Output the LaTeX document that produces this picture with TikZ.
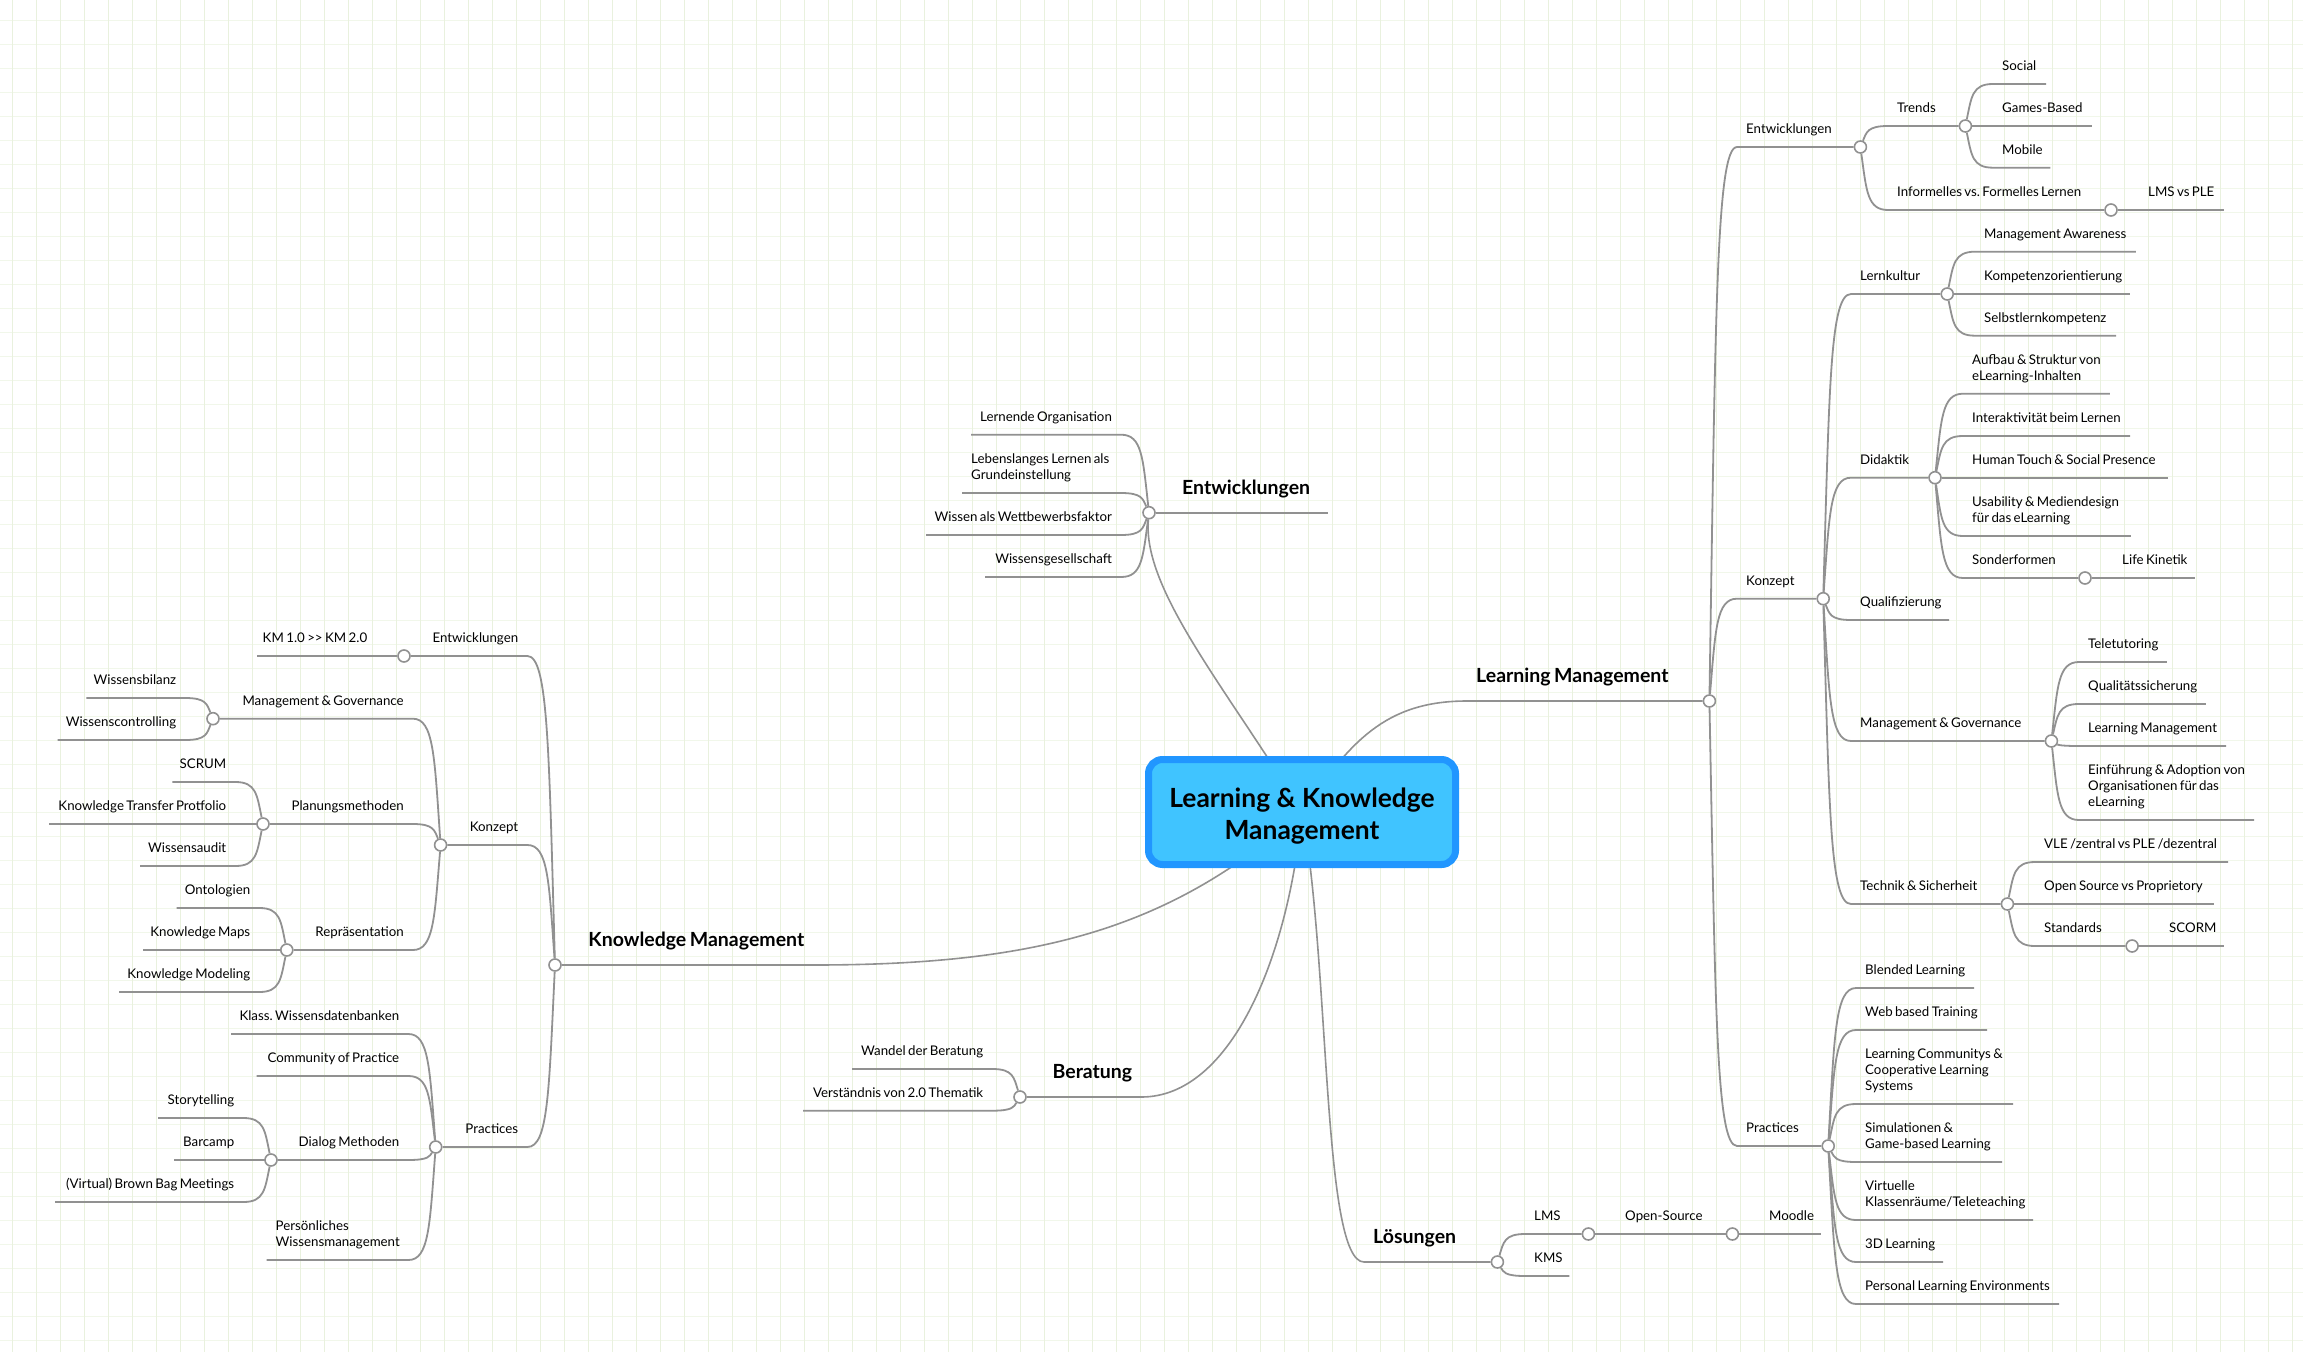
\documentclass[tikz,border=0pt]{standalone}
\usepackage{fontspec}
\setmainfont{Lato}
\usetikzlibrary{calc, backgrounds}
\definecolor{linegray}{HTML}{919191}
\definecolor{gridv}{HTML}{E9F1DE}
\definecolor{gridh}{HTML}{F1F7EA}
\definecolor{rootfill}{HTML}{40C4FF}
\definecolor{rootline}{HTML}{2196FF}
\newcommand{\oneline}{\hyphenpenalty=10000 \exhyphenpenalty=10000 \frenchspacing \spaceskip=.18em\relax}
\tikzstyle{rootbox} = [rectangle, rounded corners=14pt, minimum width=307pt, minimum height=105pt, align=center, draw=rootline, fill=rootfill, line width=7pt, font=\fontsize{26.4}{32}\selectfont\bfseries]
\tikzstyle{leaf} = [anchor=south west, inner xsep=9pt, inner ysep=8.2pt, align=left, font=\fontsize{13.3}{16}\selectfont, execute at begin node={\oneline\rightskip=-25pt plus 1fil\relax\strut}, execute at end node=\strut]
\tikzstyle{lleaf} = [leaf, align=right, execute at begin node={\oneline\leftskip=-25pt plus 1fil\relax\rightskip=0pt\parfillskip=0pt\strut}]
\tikzstyle{main} = [anchor=south west, inner xsep=9pt, inner ysep=11.6pt, align=left, font=\fontsize{19.5}{22}\selectfont\bfseries, execute at begin node={\oneline\strut}, execute at end node=\strut]
\tikzstyle{lmain} = [main, align=right]
\tikzstyle{junction} = [circle, draw=linegray, fill=white, line width=1.6pt, minimum size=12pt, inner sep=0pt]
\tikzstyle{branch} = [draw=linegray, line width=1.8pt]
\tikzstyle{stem} = [draw=linegray, line width=1.6pt]
\tikzstyle{twig} = [to path={let \p1=(\tikztostart), \p2=(\tikztotarget) in .. controls ({\x1+.22*(\x2-\x1)},{\y1+.7*(\y2-\y1)}) and ({\x1+.25*(\x2-\x1)},\y2) .. (\tikztotarget)}]

\begin{document}
\begin{tikzpicture}[x=1pt, y=-1pt]
\useasboundingbox (0,0) rectangle (2303,1352);

% Paper
\begin{scope}[on background layer]
\foreach \gx in {0,...,95} {\draw [gridh, line width=1pt] (0,{20+24*\gx}) -- (2303,{20+24*\gx});}
\foreach \gx in {0,...,95} {\draw [gridv, line width=1pt] ({12+24*\gx},0) -- ({12+24*\gx},1352);}
\end{scope}

% Nodes
\node (root) [rootbox] at (1302,812) {\rule{0pt}{27pt}Learning \& Knowledge\\Management};

% Learning Management
\node (lm) [main, text width=224pt] at (1467,701) {Learning Management};
\node (jlm) [junction] at (lm.south east) {};
\node (lment) [leaf, text width=105pt] at (1737,147) {Entwicklungen};
\node (jlment) [junction] at (lment.south east) {};
\node (trends) [leaf, text width=59pt] at (1888,126) {Trends};
\node (jtrends) [junction] at (trends.south east) {};
\node (social) [leaf, text width=34.6pt] at (1993,84) {Social};
\node (games) [leaf, text width=80.5pt] at (1993,126) {Games-Based};
\node (mobile) [leaf, text width=39pt] at (1993,167.7) {Mobile};
\node (inform) [leaf, text width=204.6pt] at (1888,210) {Informelles vs. Formelles Lernen};
\node (jinform) [junction] at (inform.south east) {};
\node (lmsple) [leaf, text width=66.5pt] at (2139,210) {LMS vs PLE};
\node (lmkonz) [leaf, text width=67.8pt] at (1737,598.7) {Konzept};
\node (jlmkonz) [junction] at (lmkonz.south east) {};
\node (lernk) [leaf, text width=77.8pt] at (1851,294) {Lernkultur};
\node (jlernk) [junction] at (lernk.south east) {};
\node (mgmtaw) [leaf, text width=142.5pt] at (1975,251.7) {Management Awareness};
\node (kompet) [leaf, text width=136.8pt] at (1975,294) {Kompetenzorientierung};
\node (selbst) [leaf, text width=122.6pt] at (1975,335.7) {Selbstlernkompetenz};
\node (didakt) [leaf, text width=65.6pt] at (1851,477.7) {Didaktik};
\node (jdidakt) [junction] at (didakt.south east) {};
\node (aufbau) [leaf, text width=128.5pt] at (1963,393.7) {Aufbau \& Struktur von\\eLearning-Inhalten};
\node (interakt) [leaf, text width=148.8pt] at (1963,436) {Interaktivität beim Lernen};
\node (human) [leaf, text width=186.7pt] at (1963,477.7) {Human Touch \& Social Presence};
\node (usab) [leaf, text width=149.5pt] at (1963,536) {Usability \& Mediendesign\\für das eLearning};
\node (sonder) [leaf, text width=103.6pt] at (1963,578) {Sonderformen};
\node (jsonder) [junction] at (sonder.south east) {};
\node (kinetik) [leaf, text width=63.8pt] at (2113,578) {Life Kinetik};
\node (quali) [leaf, text width=79.8pt] at (1851,620) {Qualifizierung};
\node (lmgov) [leaf, text width=182pt] at (1851,741) {Management \& Governance};
\node (jlmgov) [junction] at (lmgov.south east) {};
\node (tele) [leaf, text width=69.5pt] at (2079,662) {Teletutoring};
\node (qsich) [leaf, text width=108.5pt] at (2079,704) {Qualitätssicherung};
\node (lernm) [leaf, text width=128.8pt] at (2079,746) {Learning Management};
\node (einf) [leaf, text width=156.8pt] at (2079,820) {Einführung \& Adoption von\\Organisationen für das\\eLearning};
\node (technik) [leaf, text width=138pt] at (1851,904) {Technik \& Sicherheit};
\node (jtechnik) [junction] at (technik.south east) {};
\node (vle) [leaf, text width=174.7pt] at (2035,862) {VLE /zentral vs PLE /dezentral};
\node (osrc) [leaf, text width=160.6pt] at (2035,904) {Open Source vs Proprietory};
\node (stand) [leaf, text width=78.7pt] at (2035,946) {Standards};
\node (jstand) [junction] at (stand.south east) {};
\node (scorm) [leaf, text width=45.5pt] at (2160,946) {SCORM};
\node (lmprac) [leaf, text width=72.8pt] at (1737,1146) {Practices};
\node (jlmprac) [junction] at (lmprac.south east) {};
\node (blended) [leaf, text width=99.6pt] at (1856,988) {Blended Learning};
\node (webb) [leaf, text width=112.6pt] at (1856,1030) {Web based Training};
\node (commun) [leaf, text width=138.7pt] at (1856,1104) {Learning Communitys \&\\Cooperative Learning\\Systems};
\node (simul) [leaf, text width=127.6pt] at (1856,1162) {Simulationen \&\\Game-based Learning};
\node (virt) [leaf, text width=158.6pt] at (1856,1220) {Virtuelle\\Klassenräume/Teleteaching};
\node (threed) [leaf, text width=68.6pt] at (1856,1262) {3D Learning};
\node (personal) [leaf, text width=184.6pt] at (1856,1304) {Personal Learning Environments};

% Loesungen
\node (loes) [main, text width=115pt] at (1364,1262) {Lösungen};
\node (jloes) [junction] at (loes.south east) {};
\node (lms) [leaf, text width=45pt] at (1525,1234) {LMS};
\node (jlms) [junction] at (lms.south east) {};
\node (kms) [leaf, text width=26pt] at (1525,1276) {KMS};
\node (opens) [leaf, text width=98pt] at (1616,1234) {Open-Source};
\node (jopens) [junction] at (opens.south east) {};
\node (moodle) [leaf, text width=42.7pt] at (1760,1234) {Moodle};

% Entwicklungen
\node (ent) [main, text width=136.7pt] at (1173,512.7) {Entwicklungen};
\node (jent) [junction] at (1149,512.7) {};
\node (lernorg) [lleaf, text width=131.7pt] at (971,434.7) {Lernende Organisation};
\node (lebens) [leaf, text width=140.7pt] at (962,493) {Lebenslanges Lernen als\\Grundeinstellung};
\node (wettb) [lleaf, text width=176.7pt] at (926,535) {Wissen als Wettbewerbsfaktor};
\node (wgesell) [lleaf, text width=117.7pt] at (985,577) {Wissensgesellschaft};

% Beratung
\node (berat) [lmain, text width=103pt] at (1020,1097) {Beratung};
\node (jberat) [junction] at (berat.south west) {};
\node (wandel) [lleaf, text width=122pt] at (852,1069) {Wandel der Beratung};
\node (verst) [lleaf, text width=171pt] at (803,1110.7) {Verständnis von 2.0 Thematik};

% Knowledge Management
\node (km) [lmain, text width=240pt] at (555,965) {Knowledge Management};
\node (jkm) [junction] at (km.south west) {};
\node (kment) [lleaf, text width=105pt] at (404,656) {Entwicklungen};
\node (jkment) [junction] at (kment.south west) {};
\node (kmone) [lleaf, text width=100.7pt] at (257.3,656) {KM 1.0 >{}> KM 2.0};
\node (kmkonz) [lleaf, text width=68.4pt] at (440.6,845) {Konzept};
\node (jkmkonz) [junction] at (kmkonz.south west) {};
\node (kmgov) [lleaf, text width=181.5pt] at (213,718.7) {Management \& Governance};
\node (jkmgov) [junction] at (kmgov.south west) {};
\node (wbil) [lleaf, text width=80.7pt] at (86.3,698) {Wissensbilanz};
\node (wcon) [lleaf, text width=109.5pt] at (57.5,740) {Wissenscontrolling};
\node (plan) [lleaf, text width=131.5pt] at (263,824) {Planungsmethoden};
\node (jplan) [junction] at (plan.south west) {};
\node (scrum) [lleaf, text width=44.6pt] at (172.4,782) {SCRUM};
\node (ktp) [lleaf, text width=168pt] at (49,824) {Knowledge Transfer Protfolio};
\node (waudit) [lleaf, text width=77pt] at (140,866) {Wissensaudit};
\node (repr) [lleaf, text width=107.7pt] at (286.8,950) {Repräsentation};
\node (jrepr) [junction] at (repr.south west) {};
\node (onto) [lleaf, text width=64.4pt] at (176.6,908) {Ontologien};
\node (kmaps) [lleaf, text width=98.5pt] at (142.5,950) {Knowledge Maps};
\node (kmodel) [lleaf, text width=122pt] at (119,992) {Knowledge Modeling};
\node (kmprac) [lleaf, text width=73.3pt] at (435.7,1147) {Practices};
\node (jkmprac) [junction] at (kmprac.south west) {};
\node (klass) [lleaf, text width=159pt] at (231,1034) {Klass. Wissensdatenbanken};
\node (cop) [lleaf, text width=133.4pt] at (256.6,1076) {Community of Practice};
\node (dialog) [lleaf, text width=119pt] at (271,1160) {Dialog Methoden};
\node (jdialog) [junction] at (dialog.south west) {};
\node (story) [lleaf, text width=67pt] at (158,1118) {Storytelling};
\node (barcamp) [lleaf, text width=51pt] at (174,1160) {Barcamp};
\node (brown) [lleaf, text width=170pt] at (55,1202) {(Virtual) Brown Bag Meetings};
\node (persoen) [leaf, text width=123.5pt] at (266.5,1260) {Persönliches\\Wissensmanagement};

% Lines
\begin{scope}[on background layer]
\draw [stem] (root.center) .. controls (1350,742) and (1385,701) .. (lm.south west) -- (jlm);
\draw [stem] (root.center) .. controls (1330,960) and (1322,1262) .. (loes.south west) -- (jloes);
\draw [stem] (root.center) .. controls (1228,690) and (1142,590) .. (jent);
\draw [stem] (root.center) .. controls (1288,960) and (1230,1097) .. (berat.south east) -- (jberat);
\draw [stem] (root.center) .. controls (1170,930) and (1035,965) .. (km.south east) -- (jkm);

\draw [branch] (jlm) to[twig] (lment.south west) -- (jlment);
\draw [branch] (jlment) to[twig] (trends.south west) -- (jtrends);
\draw [branch] (jtrends) to[twig] (social.south west) -- (social.south east);
\draw [branch] (jtrends) to[twig] (games.south west) -- (games.south east);
\draw [branch] (jtrends) to[twig] (mobile.south west) -- (mobile.south east);
\draw [branch] (jlment) to[twig] (inform.south west) -- (jinform);
\draw [branch] (jinform) -- (lmsple.south west) -- (lmsple.south east);
\draw [branch] (jlm) to[twig] (lmkonz.south west) -- (jlmkonz);
\draw [branch] (jlmkonz) to[twig] (lernk.south west) -- (jlernk);
\draw [branch] (jlernk) to[twig] (mgmtaw.south west) -- (mgmtaw.south east);
\draw [branch] (jlernk) to[twig] (kompet.south west) -- (kompet.south east);
\draw [branch] (jlernk) to[twig] (selbst.south west) -- (selbst.south east);
\draw [branch] (jlmkonz) to[twig] (didakt.south west) -- (jdidakt);
\draw [branch] (jdidakt) to[twig] (aufbau.south west) -- (aufbau.south east);
\draw [branch] (jdidakt) to[twig] (interakt.south west) -- (interakt.south east);
\draw [branch] (jdidakt) to[twig] (human.south west) -- (human.south east);
\draw [branch] (jdidakt) to[twig] (usab.south west) -- (usab.south east);
\draw [branch] (jdidakt) to[twig] (sonder.south west) -- (jsonder);
\draw [branch] (jsonder) -- (kinetik.south west) -- (kinetik.south east);
\draw [branch] (jlmkonz) to[twig] (quali.south west) -- (quali.south east);
\draw [branch] (jlmkonz) to[twig] (lmgov.south west) -- (jlmgov);
\draw [branch] (jlmgov) to[twig] (tele.south west) -- (tele.south east);
\draw [branch] (jlmgov) to[twig] (qsich.south west) -- (qsich.south east);
\draw [branch] (jlmgov) to[twig] (lernm.south west) -- (lernm.south east);
\draw [branch] (jlmgov) to[twig] (einf.south west) -- (einf.south east);
\draw [branch] (jlmkonz) to[twig] (technik.south west) -- (jtechnik);
\draw [branch] (jtechnik) to[twig] (vle.south west) -- (vle.south east);
\draw [branch] (jtechnik) to[twig] (osrc.south west) -- (osrc.south east);
\draw [branch] (jtechnik) to[twig] (stand.south west) -- (jstand);
\draw [branch] (jstand) -- (scorm.south west) -- (scorm.south east);
\draw [branch] (jlm) to[twig] (lmprac.south west) -- (jlmprac);
\draw [branch] (jlmprac) to[twig] (blended.south west) -- (blended.south east);
\draw [branch] (jlmprac) to[twig] (webb.south west) -- (webb.south east);
\draw [branch] (jlmprac) to[twig] (commun.south west) -- (commun.south east);
\draw [branch] (jlmprac) to[twig] (simul.south west) -- (simul.south east);
\draw [branch] (jlmprac) to[twig] (virt.south west) -- (virt.south east);
\draw [branch] (jlmprac) to[twig] (threed.south west) -- (threed.south east);
\draw [branch] (jlmprac) to[twig] (personal.south west) -- (personal.south east);

\draw [branch] (jloes) to[twig] (lms.south west) -- (jlms);
\draw [branch] (jloes) to[twig] (kms.south west) -- (kms.south east);
\draw [branch] (jlms) -- (opens.south west) -- (jopens);
\draw [branch] (jopens) -- (moodle.south west) -- (moodle.south east);

\draw [branch] (jent) -- (ent.south west) -- (ent.south east);
\draw [branch] (jent) to[twig] (lernorg.south east) -- (lernorg.south west);
\draw [branch] (jent) to[twig] (lebens.south east) -- (lebens.south west);
\draw [branch] (jent) to[twig] (wettb.south east) -- (wettb.south west);
\draw [branch] (jent) to[twig] (wgesell.south east) -- (wgesell.south west);

\draw [branch] (jberat) to[twig] (wandel.south east) -- (wandel.south west);
\draw [branch] (jberat) to[twig] (verst.south east) -- (verst.south west);

\draw [branch] (jkm) to[twig] (kment.south east) -- (jkment);
\draw [branch] (jkment) -- (kmone.south east) -- (kmone.south west);
\draw [branch] (jkm) to[twig] (kmkonz.south east) -- (jkmkonz);
\draw [branch] (jkmkonz) to[twig] (kmgov.south east) -- (jkmgov);
\draw [branch] (jkmgov) to[twig] (wbil.south east) -- (wbil.south west);
\draw [branch] (jkmgov) to[twig] (wcon.south east) -- (wcon.south west);
\draw [branch] (jkmkonz) to[twig] (plan.south east) -- (jplan);
\draw [branch] (jplan) to[twig] (scrum.south east) -- (scrum.south west);
\draw [branch] (jplan) to[twig] (ktp.south east) -- (ktp.south west);
\draw [branch] (jplan) to[twig] (waudit.south east) -- (waudit.south west);
\draw [branch] (jkmkonz) to[twig] (repr.south east) -- (jrepr);
\draw [branch] (jrepr) to[twig] (onto.south east) -- (onto.south west);
\draw [branch] (jrepr) to[twig] (kmaps.south east) -- (kmaps.south west);
\draw [branch] (jrepr) to[twig] (kmodel.south east) -- (kmodel.south west);
\draw [branch] (jkm) to[twig] (kmprac.south east) -- (jkmprac);
\draw [branch] (jkmprac) to[twig] (klass.south east) -- (klass.south west);
\draw [branch] (jkmprac) to[twig] (cop.south east) -- (cop.south west);
\draw [branch] (jkmprac) to[twig] (dialog.south east) -- (jdialog);
\draw [branch] (jdialog) to[twig] (story.south east) -- (story.south west);
\draw [branch] (jdialog) to[twig] (barcamp.south east) -- (barcamp.south west);
\draw [branch] (jdialog) to[twig] (brown.south east) -- (brown.south west);
\draw [branch] (jkmprac) to[twig] (persoen.south east) -- (persoen.south west);
\end{scope}

\end{tikzpicture}
\end{document}
